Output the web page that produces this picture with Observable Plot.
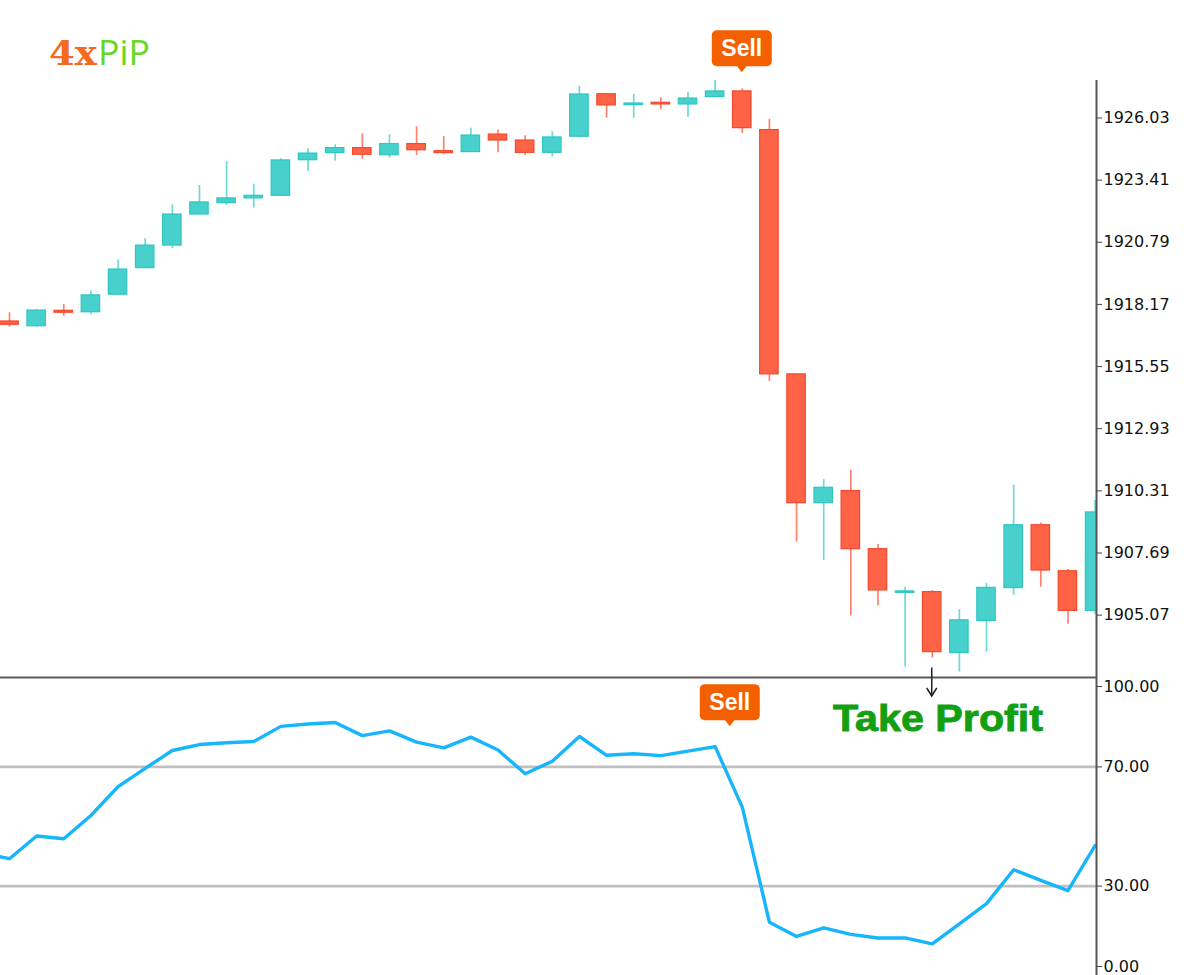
<!DOCTYPE html>
<html>
<head>
<meta charset="utf-8">
<script src="https://cdn.jsdelivr.net/npm/d3@7"></script>
<script src="https://cdn.jsdelivr.net/npm/@observablehq/plot@0.6"></script>
<style>
html, body { margin: 0; padding: 0; background: #fff; }
#wrap { position: relative; width: 1200px; height: 975px; overflow: hidden; background: #fff; }
#wrap svg { display: block; position: absolute; left: 0; }
</style>
</head>
<body>
<div id="wrap"></div>
<script>
// ---- data ----
const bars = [0,1,2,3,4,5,6,7,8,9,10,11,12,13,14,15,16,17,18,19,20,21,22,23,24,25,26,27,28,29,30,31,32,33,34,35,36,37,38,39,40];
const open  = [1917.45,1917.25,1917.90,1917.84,1918.58,1919.70,1920.65,1921.96,1922.44,1922.64,1922.75,1924.25,1924.55,1924.76,1924.46,1924.93,1924.63,1924.59,1925.33,1925.08,1924.56,1925.24,1927.03,1926.57,1926.67,1926.60,1926.91,1927.15,1925.52,1915.22,1909.79,1910.30,1907.85,1906.01,1906.04,1903.47,1904.82,1906.21,1908.86,1906.92,1905.25];
const close = [1917.31,1917.91,1917.82,1918.55,1919.64,1920.65,1921.96,1922.47,1922.64,1922.75,1924.24,1924.53,1924.76,1924.48,1924.93,1924.67,1924.55,1925.29,1925.08,1924.56,1925.21,1927.02,1926.56,1926.64,1926.60,1926.85,1927.15,1925.60,1915.22,1909.79,1910.44,1907.85,1906.11,1906.07,1903.51,1904.85,1906.22,1908.86,1906.95,1905.25,1909.40];
const high  = [1917.82,1917.96,1918.17,1918.74,1920.04,1920.94,1922.37,1923.18,1924.20,1923.24,1924.31,1924.73,1924.90,1925.36,1925.33,1925.66,1925.25,1925.60,1925.52,1925.28,1925.45,1927.37,1927.05,1927.02,1926.88,1927.11,1927.61,1927.26,1925.98,1915.22,1910.78,1911.18,1908.05,1906.25,1906.11,1905.30,1906.41,1910.55,1908.96,1906.99,1909.90];
const low   = [1917.21,1917.21,1917.67,1917.73,1918.58,1919.68,1920.52,1921.95,1922.35,1922.23,1922.74,1923.77,1924.21,1924.29,1924.34,1924.45,1924.48,1924.58,1924.56,1924.45,1924.39,1925.22,1926.02,1926.02,1926.38,1926.06,1926.90,1925.38,1914.92,1908.15,1907.37,1905.04,1905.45,1902.88,1903.26,1902.67,1903.51,1905.90,1906.25,1904.68,1905.10];

const rsiBars = [-1,0,1,2,3,4,5,6,7,8,9,10,11,12,13,14,15,16,17,18,19,20,21,22,23,24,25,26,27,28,29,30,31,32,33,34,35,36,37,38,39,40];
const rsiValues = [41.0,39.2,46.8,45.9,53.7,63.4,69.5,75.5,77.5,78.1,78.5,83.6,84.4,84.9,80.5,82.1,78.3,76.4,80.0,75.7,67.7,71.9,80.2,73.9,74.4,73.8,75.3,76.8,56.5,17.9,13.1,16.0,13.8,12.6,12.6,10.6,17.3,24.1,35.5,31.9,28.5,43.6];

const priceTicks = [1905.07,1907.69,1910.31,1912.93,1915.55,1918.17,1920.79,1923.41,1926.03];
const rsiLevels = [30, 70];
const rsiMidTicks = [30, 70];
const rsiTopTick = [100];
const rsiBottomTick = [0];
const priceRange = [1902.44, 1927.61];
const barRange = [-0.3316, 40.052];

const sellBar = 27;
const takeProfitBar = 34;

// ---- build ----
const UP = "#48d1cc", UP_EDGE = "#2fc6c0";
const DN = "#ff6347", DN_EDGE = "#f4492c";
const candles = bars.map((b, k) => ({i: b, o: open[k], h: high[k], l: low[k], c: close[k]}));
const isUp = d => d.c >= d.o;
const rsiData = rsiBars.map((b, k) => ({i: b, v: rsiValues[k]}));

const fontStyle = {fontFamily: "'DejaVu Sans', Verdana, sans-serif", fontSize: "16px", color: "#111", background: "transparent"};
const axisOpts = {anchor: "right", label: null, tickSize: 5, tickPadding: 2, stroke: "#444", fill: "#111", fontSize: 16, tickFormat: d => d.toFixed(2)};

const priceChart = Plot.plot({
  width: 1200, height: 677,
  marginTop: 80, marginBottom: 0, marginLeft: 0, marginRight: 104,
  style: fontStyle,
  x: {domain: barRange, axis: null},
  y: {domain: priceRange, axis: null},
  marks: [
    Plot.ruleX(candles, {x: "i", y1: "l", y2: "h", stroke: d => isUp(d) ? UP : DN, strokeWidth: 1.7, strokeOpacity: 0.8, clip: true}),
    Plot.rect(candles, {x1: d => d.i - 0.34, x2: d => d.i + 0.34, y1: "o", y2: "c",
      fill: d => isUp(d) ? UP : DN, stroke: d => isUp(d) ? UP_EDGE : DN_EDGE, strokeWidth: 1.2, clip: true}),
    Plot.ruleX([barRange[1]], {stroke: "#555", strokeWidth: 2}),
    Plot.axisY(priceTicks, axisOpts)
  ]
});
priceChart.style.top = "0px";

const rsiChart = Plot.plot({
  width: 1200, height: 302,
  marginTop: 4, marginBottom: 0, marginLeft: 0, marginRight: 104,
  style: fontStyle,
  x: {domain: barRange, axis: null},
  y: {domain: [0, 100], axis: null},
  marks: [
    Plot.ruleY(rsiLevels, {stroke: "#c0c0c0", strokeWidth: 2.6}),
    Plot.ruleY(rsiTopTick, {stroke: "#5a5a5a", strokeWidth: 2}),
    Plot.line(rsiData, {x: "i", y: "v", stroke: "#17b5fb", strokeWidth: 3.4, clip: true}),
    Plot.ruleX([barRange[1]], {stroke: "#555", strokeWidth: 2}),
    Plot.axisY(rsiMidTicks, axisOpts),
    Plot.axisY(rsiTopTick, {...axisOpts, dy: 9}),
    Plot.axisY(rsiBottomTick, {...axisOpts, dy: -9})
  ]
});
rsiChart.style.top = "673px";

const wrap = document.getElementById("wrap");
wrap.appendChild(priceChart);
wrap.appendChild(rsiChart);

// ---- annotations overlay ----
const xs = priceChart.scale("x");
const ys = priceChart.scale("y");
const ry = rsiChart.scale("y");
const NS = "http://www.w3.org/2000/svg";
const ov = document.createElementNS(NS, "svg");
ov.setAttribute("width", 1200);
ov.setAttribute("height", 975);
ov.style.top = "0px";
ov.style.pointerEvents = "none";
wrap.appendChild(ov);

function el(tag, attrs, text) {
  const e = document.createElementNS(NS, tag);
  for (const k in attrs) e.setAttribute(k, attrs[k]);
  if (text != null) e.textContent = text;
  ov.appendChild(e);
  return e;
}

// logo
el("text", {x: 49, y: 65, "font-family": "'DejaVu Serif', serif", "font-weight": "bold", "font-size": 34, fill: "#f26b21",
  textLength: 48, lengthAdjust: "spacingAndGlyphs"}, "4x");
el("text", {x: 98, y: 65, "font-family": "'Open Sans', sans-serif", "font-weight": 400, "font-size": 35, fill: "#66d91e",
  textLength: 52, lengthAdjust: "spacingAndGlyphs"}, "PiP");

function badge(cx, tipY) {
  const w = 60, h = 36, bottom = tipY - 6;
  el("rect", {x: cx - w / 2, y: bottom - h, width: w, height: h, rx: 5, fill: "#f45f00"});
  el("path", {d: `M${cx - 5},${bottom - 0.5} L${cx + 5},${bottom - 0.5} L${cx},${tipY} Z`, fill: "#f45f00"});
  el("text", {x: cx, y: bottom - 10, "text-anchor": "middle", "font-family": "'Liberation Sans', Arial, sans-serif",
    "font-weight": "bold", "font-size": 23, fill: "#fff"}, "Sell");
}
const sx = xs.apply(sellBar);
badge(sx, ys.apply(high[sellBar]) - 16);
badge(sx - 12, 673 + ry.apply(rsiValues[rsiBars.indexOf(sellBar - 1)]) - 20);

// take-profit arrow & label
const tx = xs.apply(takeProfitBar);
const ay1 = ys.apply(low[takeProfitBar]) + 10, ay2 = 673 + ry.apply(100) + 19;
el("line", {x1: tx, y1: ay1, x2: tx, y2: ay2, stroke: "#222", "stroke-width": 1.5});
el("path", {d: `M${tx - 5},${ay2 - 8} L${tx},${ay2} L${tx + 5},${ay2 - 8}`, fill: "none", stroke: "#222", "stroke-width": 1.5});
el("text", {x: 833, y: 731, "font-family": "'Liberation Sans', Arial, sans-serif", "font-weight": "bold", "font-size": 37,
  fill: "#12a012", stroke: "#12a012", "stroke-width": 0.9, textLength: 210, lengthAdjust: "spacingAndGlyphs"}, "Take Profit");
</script>
</body>
</html>
